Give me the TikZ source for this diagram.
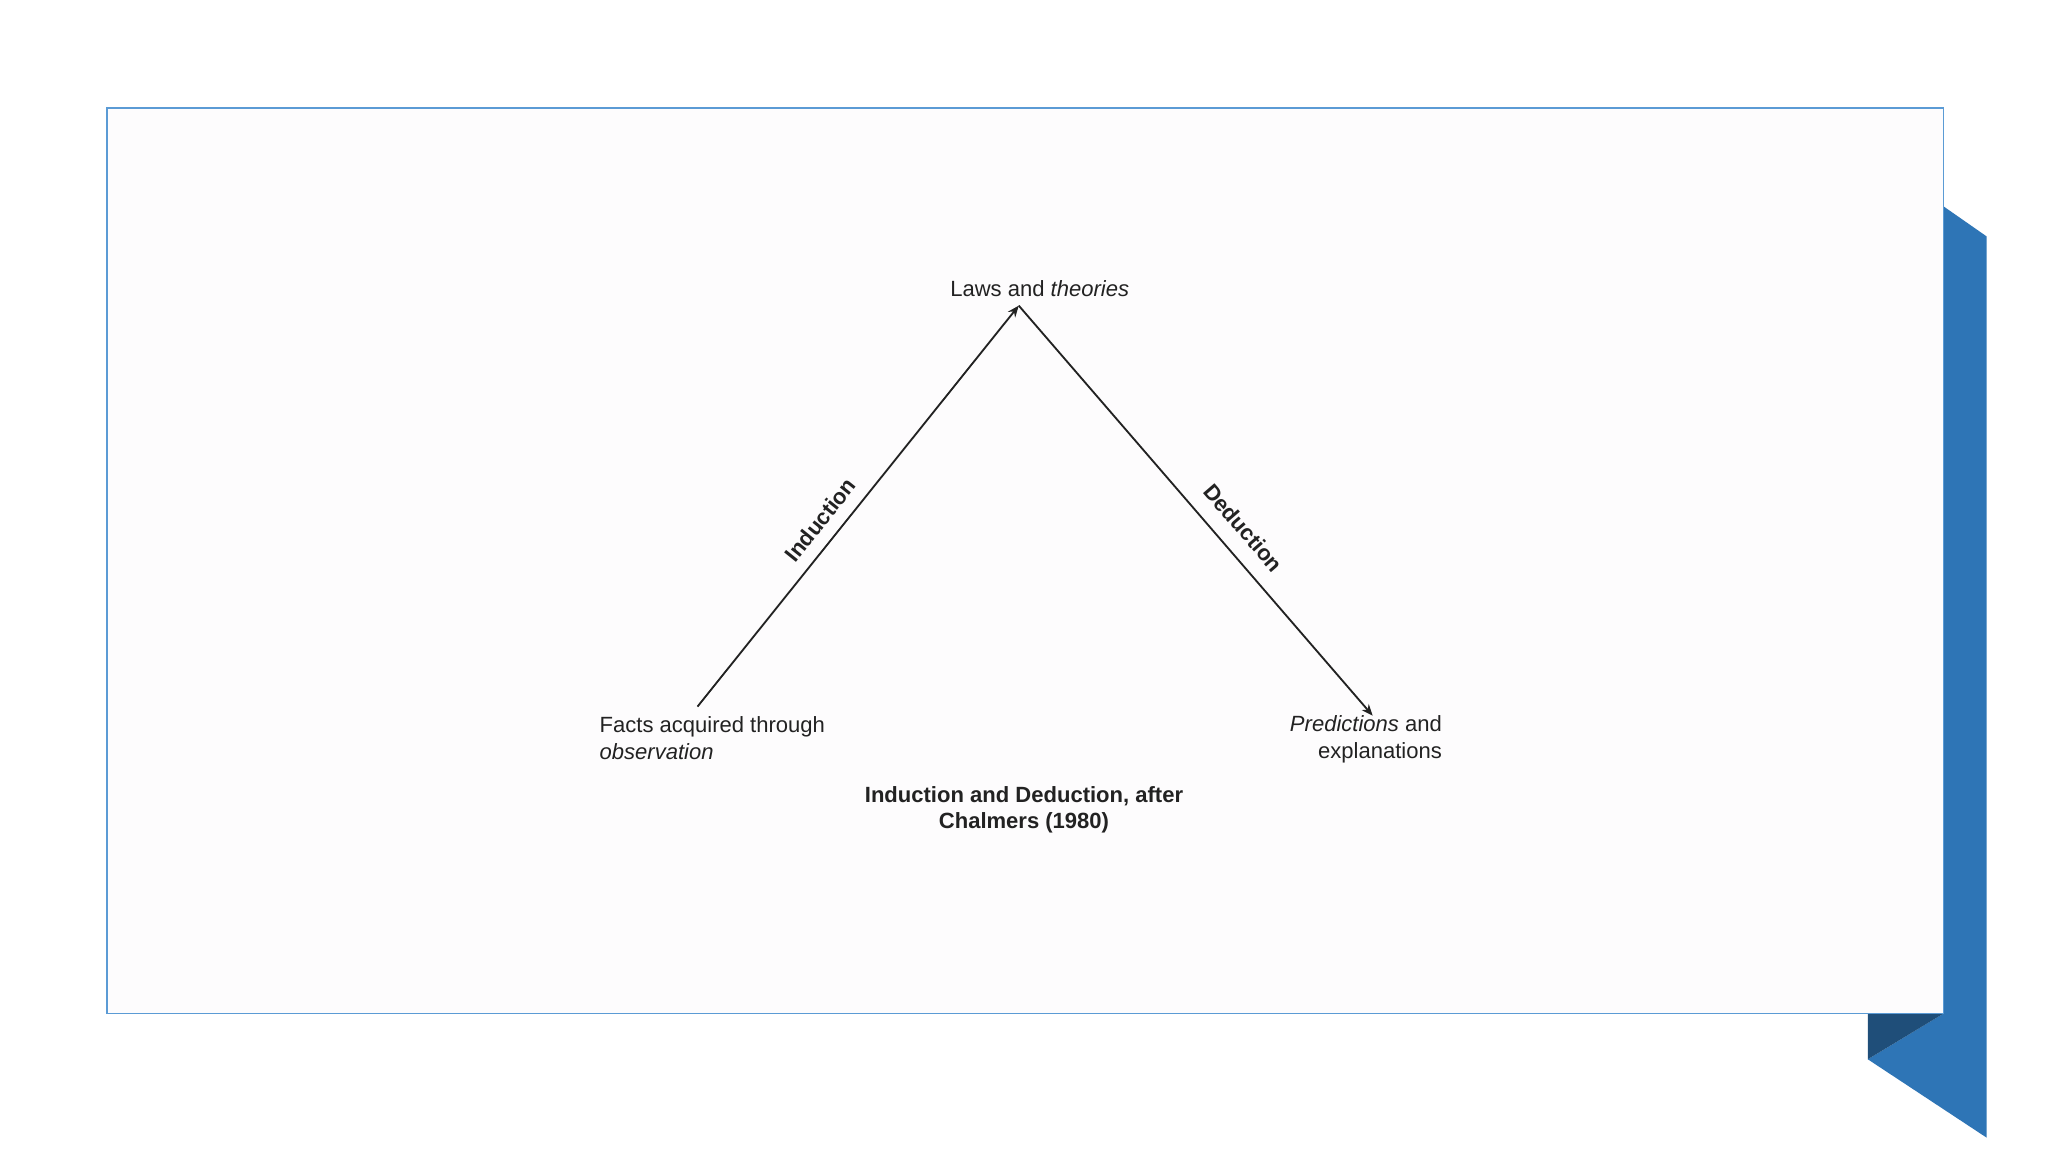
\documentclass[tikz,border=0pt]{standalone}
\usepackage{fontspec}
\setmainfont{Liberation Sans}
\usetikzlibrary{arrows.meta}
\definecolor{frameblue}{HTML}{5B9BD5}
\definecolor{ribbon}{HTML}{2E75B6}
\definecolor{ribbondark}{HTML}{1F4E79}
\definecolor{txt}{HTML}{222222}
\definecolor{paper}{HTML}{FDFCFD}
\tikzset{lbl/.style={font=\fontsize{9.6}{11.5}\selectfont,text=txt,inner sep=1pt},
  bl/.style={font=\fontsize{9.6}{11.5}\selectfont\bfseries,text=txt,inner sep=1pt},
  conn/.style={draw=txt,line width=0.8pt,-{Stealth[length=5pt,width=4pt]}}}
\begin{document}
\begin{tikzpicture}[x=0.02cm,y=-0.02cm]
\useasboundingbox (0,0) rectangle (1568,882);
\fill[white] (0,0) rectangle (1568,882);
\fill[ribbon] (1488,158) -- (1521,181) -- (1521,871) -- (1430,811) -- (1488,776) -- cycle;
\fill[ribbondark] (1430,776) -- (1488,776) -- (1430,811) -- cycle;
\draw[frameblue,line width=0.8pt,fill=paper] (82,83) rectangle (1488,776);
\node[lbl] (laws) at (796,221) {Laws and \textit{theories}};
\node[lbl,align=left,anchor=west] (facts) at (457,565) {Facts acquired through\\\textit{observation}};
\node[lbl,align=right,anchor=east] (pred) at (1106,566) {\textit{Predictions} and\\explanations};
\node[bl,align=center] (cap) at (784,620) {Induction and Deduction, after\\Chalmers (1980)};
\coordinate (a) at (534,541);
\coordinate (top) at (780,234);
\coordinate (b) at (1051,548);
\draw[conn] (a) -- (top);
\draw[conn] (top) -- (b);
\node[bl,rotate=51.3] (ind) at (628,398) {Induction};
\node[bl,rotate=-49.2] (ded) at (952,404) {Deduction};
\end{tikzpicture}
\end{document}
